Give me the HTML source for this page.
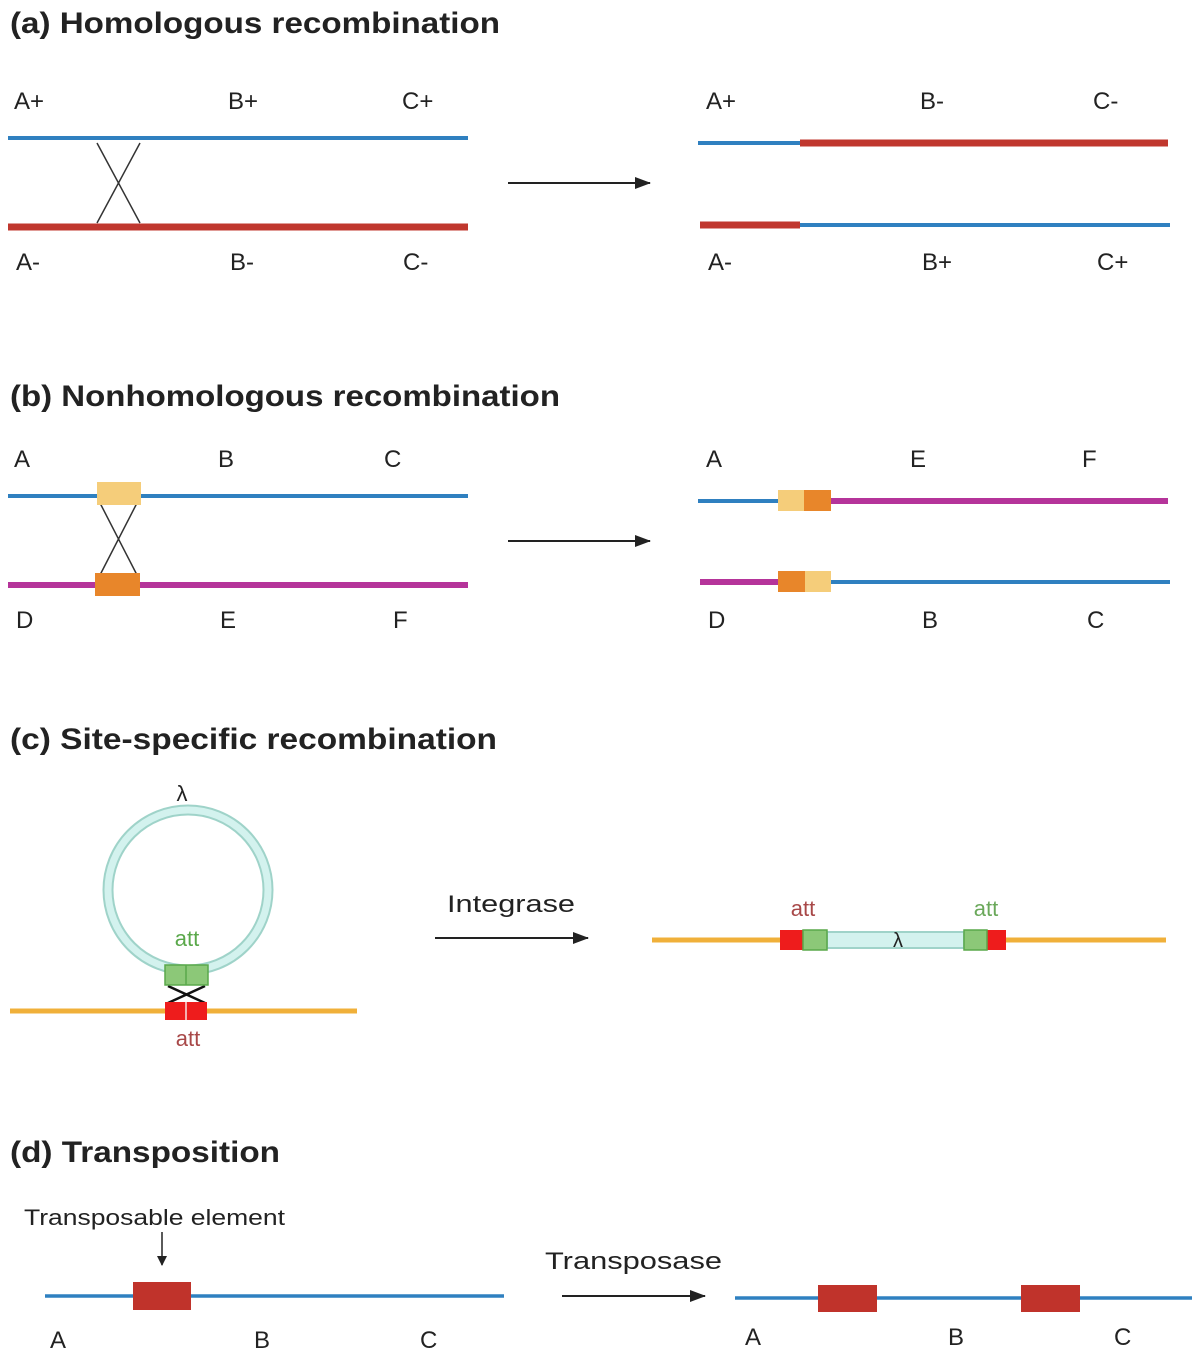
<!DOCTYPE html>
<html><head><meta charset="utf-8"><style>body{margin:0;background:#fff}svg{display:block}text{font-family:"Liberation Sans",sans-serif}</style></head><body>
<svg width="1200" height="1360" viewBox="0 0 1200 1360" xmlns="http://www.w3.org/2000/svg">
<defs><marker id="ah" markerWidth="10" markerHeight="10" refX="9" refY="5" orient="auto" markerUnits="userSpaceOnUse"><path d="M0,0 L10,5 L0,10 z" fill="#222"/></marker>
<marker id="ah2" markerWidth="16" markerHeight="12" refX="15" refY="6" orient="auto" markerUnits="userSpaceOnUse"><path d="M0,0 L16,6 L0,12 z" fill="#222"/></marker></defs>
<g font-weight="bold" font-size="30" fill="#222">
<text x="10" y="33" textLength="490" lengthAdjust="spacingAndGlyphs">(a) Homologous recombination</text>
<text x="10" y="406" textLength="550" lengthAdjust="spacingAndGlyphs">(b) Nonhomologous recombination</text>
<text x="10" y="749" textLength="487" lengthAdjust="spacingAndGlyphs">(c) Site-specific recombination</text>
<text x="10" y="1162" textLength="270" lengthAdjust="spacingAndGlyphs">(d) Transposition</text></g>
<g font-size="24" fill="#222">
<text x="14" y="109">A+</text><text x="228" y="109">B+</text><text x="402" y="109">C+</text>
<text x="16" y="270">A-</text><text x="230" y="270">B-</text><text x="403" y="270">C-</text>
<text x="706" y="109">A+</text><text x="920" y="109">B-</text><text x="1093" y="109">C-</text>
<text x="708" y="270">A-</text><text x="922" y="270">B+</text><text x="1097" y="270">C+</text>
<text x="14" y="467">A</text><text x="218" y="467">B</text><text x="384" y="467">C</text>
<text x="16" y="628">D</text><text x="220" y="628">E</text><text x="393" y="628">F</text>
<text x="706" y="467">A</text><text x="910" y="467">E</text><text x="1082" y="467">F</text>
<text x="708" y="628">D</text><text x="922" y="628">B</text><text x="1087" y="628">C</text>
<text x="447" y="912" textLength="128" lengthAdjust="spacingAndGlyphs">Integrase</text>
<text x="545" y="1269" textLength="177" lengthAdjust="spacingAndGlyphs">Transposase</text>
<text x="50" y="1348">A</text><text x="254" y="1348">B</text><text x="420" y="1348">C</text>
<text x="745" y="1345">A</text><text x="948" y="1345">B</text><text x="1114" y="1345">C</text>
</g>
<text x="24" y="1225" font-size="22" fill="#222" textLength="261" lengthAdjust="spacingAndGlyphs">Transposable element</text>
<!-- a -->
<line x1="8" y1="138" x2="468" y2="138" stroke="#2f80c0" stroke-width="4"/>
<line x1="8" y1="227" x2="468" y2="227" stroke="#c0372e" stroke-width="7"/>
<line x1="97" y1="143" x2="140" y2="223" stroke="#333" stroke-width="1.5"/>
<line x1="140" y1="143" x2="97" y2="223" stroke="#333" stroke-width="1.5"/>
<line x1="508" y1="183" x2="650" y2="183" stroke="#222" stroke-width="2" marker-end="url(#ah2)"/>
<line x1="698" y1="143" x2="800" y2="143" stroke="#2f80c0" stroke-width="4"/>
<line x1="800" y1="143" x2="1168" y2="143" stroke="#c0372e" stroke-width="7"/>
<line x1="700" y1="225" x2="800" y2="225" stroke="#c0372e" stroke-width="7"/>
<line x1="800" y1="225" x2="1170" y2="225" stroke="#2f80c0" stroke-width="4"/>
<!-- b -->
<line x1="8" y1="496" x2="468" y2="496" stroke="#2f80c0" stroke-width="4"/>
<line x1="8" y1="585" x2="468" y2="585" stroke="#b5349a" stroke-width="6"/>
<line x1="100" y1="503" x2="137" y2="575" stroke="#333" stroke-width="1.5"/>
<line x1="137" y1="503" x2="100" y2="575" stroke="#333" stroke-width="1.5"/>
<rect x="97" y="482" width="44" height="23" fill="#f5cd7a"/>
<rect x="95" y="573" width="45" height="23" fill="#e8862a"/>
<line x1="508" y1="541" x2="650" y2="541" stroke="#222" stroke-width="2" marker-end="url(#ah2)"/>
<line x1="698" y1="501" x2="778" y2="501" stroke="#2f80c0" stroke-width="4"/>
<line x1="831" y1="501" x2="1168" y2="501" stroke="#b5349a" stroke-width="6"/>
<rect x="778" y="490" width="27" height="21" fill="#f5cd7a"/><rect x="804" y="490" width="27" height="21" fill="#e8862a"/>
<line x1="700" y1="582" x2="778" y2="582" stroke="#b5349a" stroke-width="6"/>
<line x1="831" y1="582" x2="1170" y2="582" stroke="#2f80c0" stroke-width="4"/>
<rect x="778" y="571" width="27" height="21" fill="#e8862a"/><rect x="805" y="571" width="26" height="21" fill="#f5cd7a"/>
<!-- c -->
<text x="182" y="801" font-size="22" text-anchor="middle" fill="#222">λ</text>
<circle cx="188" cy="890" r="80" fill="none" stroke="#9fd3c9" stroke-width="11"/>
<circle cx="188" cy="890" r="80" fill="none" stroke="#d3f2ee" stroke-width="7"/>
<text x="187" y="946" font-size="22" text-anchor="middle" fill="#5aa84a">att</text>
<line x1="10" y1="1011" x2="357" y2="1011" stroke="#f0b03a" stroke-width="5"/>
<line x1="168" y1="986" x2="205" y2="1003" stroke="#111" stroke-width="2.5"/>
<line x1="205" y1="986" x2="168" y2="1003" stroke="#111" stroke-width="2.5"/>
<rect x="165" y="965" width="43" height="20" fill="#8cc878" stroke="#5aa84a" stroke-width="1.5"/>
<line x1="186" y1="965" x2="186" y2="985" stroke="#5aa84a" stroke-width="1.5"/>
<rect x="165" y="1002" width="42" height="18" fill="#ee1c1c"/>
<line x1="186" y1="1002" x2="186" y2="1020" stroke="#f5b0b0" stroke-width="2"/>
<text x="188" y="1046" font-size="22" text-anchor="middle" fill="#a84848">att</text>
<line x1="435" y1="938" x2="588" y2="938" stroke="#222" stroke-width="2" marker-end="url(#ah2)"/>
<line x1="652" y1="940" x2="1166" y2="940" stroke="#f0b03a" stroke-width="5"/>
<rect x="827" y="932" width="137" height="16" fill="#d3f2ee" stroke="#9fd3c9" stroke-width="2"/>
<rect x="780" y="930" width="23" height="20" fill="#ee1c1c"/><rect x="987" y="930" width="19" height="20" fill="#ee1c1c"/>
<rect x="803" y="930" width="24" height="20" fill="#8cc878" stroke="#5aa84a" stroke-width="1.5"/>
<rect x="964" y="930" width="23" height="20" fill="#8cc878" stroke="#5aa84a" stroke-width="1.5"/>
<text x="898" y="947" font-size="20" text-anchor="middle" fill="#222">λ</text>
<text x="803" y="916" font-size="22" text-anchor="middle" fill="#a84848">att</text>
<text x="986" y="916" font-size="22" text-anchor="middle" fill="#6aa85a">att</text>
<!-- d -->
<line x1="162" y1="1232" x2="162" y2="1265" stroke="#222" stroke-width="1.5" marker-end="url(#ah)"/>
<line x1="45" y1="1296" x2="504" y2="1296" stroke="#2f80c0" stroke-width="3.5"/>
<rect x="133" y="1282" width="58" height="28" fill="#c0332b"/>
<line x1="562" y1="1296" x2="705" y2="1296" stroke="#222" stroke-width="2" marker-end="url(#ah2)"/>
<line x1="735" y1="1298" x2="1192" y2="1298" stroke="#2f80c0" stroke-width="3.5"/>
<rect x="818" y="1285" width="59" height="27" fill="#c0332b"/>
<rect x="1021" y="1285" width="59" height="27" fill="#c0332b"/>
</svg>
</body></html>
